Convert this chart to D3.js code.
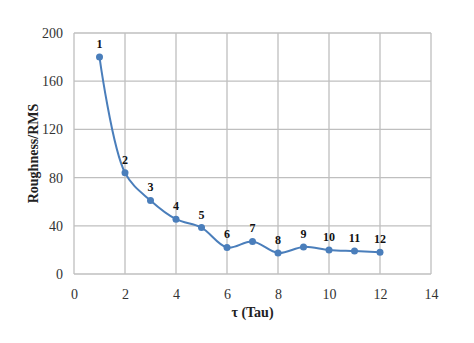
<!DOCTYPE html>
<html><head><meta charset="utf-8">
<script src="https://cdn.jsdelivr.net/npm/d3@7"></script>
<style>body{margin:0;background:#fff}svg{display:block}</style>
</head><body>
<svg id="c" width="474" height="343"></svg>
<script>
const tau = [1,2,3,4,5,6,7,8,9,10,11,12];
const rms = [180,84,61,45.5,38.5,22,27,17.5,22.5,20,19,18];
const pointLabels = ["1","2","3","4","5","6","7","8","9","10","11","12"];
const xTicks = [0,2,4,6,8,10,12,14];
const yTicks = [0,40,80,120,160,200];

const svg = d3.select("#c");
const m = {l:74, r:431, t:33, b:274};
const x = d3.scaleLinear().domain([0,14]).range([m.l,m.r]);
const y = d3.scaleLinear().domain([0,200]).range([m.b,m.t]);
const font = "Liberation Serif";

// grid
svg.append("g").selectAll("line").data(xTicks).join("line")
  .attr("x1",d=>x(d)).attr("x2",d=>x(d)).attr("y1",m.t).attr("y2",m.b)
  .attr("stroke","#bfbfbf").attr("stroke-width",1.3);
svg.append("g").selectAll("line").data(yTicks).join("line")
  .attr("x1",m.l).attr("x2",m.r).attr("y1",d=>y(d)).attr("y2",d=>y(d))
  .attr("stroke","#bfbfbf").attr("stroke-width",1.3);

// axes labels
const xa = svg.append("g").attr("transform",`translate(0,${m.b})`)
  .call(d3.axisBottom(x).tickValues(xTicks).tickSize(0).tickPadding(15));
xa.select(".domain").remove();
xa.attr("font-family",font).attr("font-size",14);
xa.selectAll("text").attr("fill","#333");
const ya = svg.append("g").attr("transform",`translate(${m.l},0)`)
  .call(d3.axisLeft(y).tickValues(yTicks).tickSize(0).tickPadding(11));
ya.select(".domain").remove();
ya.attr("font-family",font).attr("font-size",14);
ya.selectAll("text").attr("fill","#333");

// line
const data = tau.map((t,i)=>({t, v:rms[i], l:pointLabels[i]}));
svg.append("path").datum(data)
  .attr("d", d3.line().x(d=>x(d.t)).y(d=>y(d.v)).curve(d3.curveCatmullRom.alpha(0.5)))
  .attr("fill","none").attr("stroke","#4a7ebb").attr("stroke-width",2);
svg.append("g").selectAll("circle").data(data).join("circle")
  .attr("cx",d=>x(d.t)).attr("cy",d=>y(d.v)).attr("r",3.5).attr("fill","#4a7ebb");
svg.append("g").selectAll("text").data(data).join("text")
  .attr("x",d=>x(d.t)).attr("y",d=>y(d.v)-9)
  .attr("text-anchor","middle").attr("font-family",font).attr("font-weight","bold")
  .attr("font-size",12).attr("fill","#111").text(d=>d.l);

// titles
svg.append("text").attr("x",(m.l+m.r)/2).attr("y",317).attr("text-anchor","middle")
  .attr("font-family",font).attr("font-weight","bold").attr("font-size",14).attr("fill","#222")
  .text("τ (Tau)");
svg.append("text").attr("transform",`translate(38,${(m.t+m.b)/2}) rotate(-90)`)
  .attr("text-anchor","middle").attr("font-family",font).attr("font-weight","bold")
  .attr("font-size",14).attr("fill","#222").text("Roughness/RMS");
</script>
</body></html>
